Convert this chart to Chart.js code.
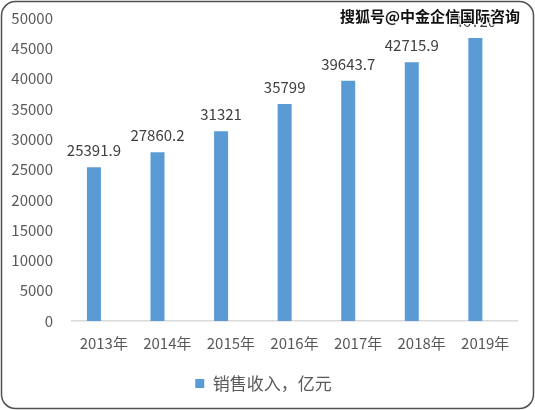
<!DOCTYPE html>
<html>
<head>
<meta charset="utf-8">
<script src="https://cdn.jsdelivr.net/npm/chart.js@4"></script>
<style>
  html, body { margin: 0; padding: 0; background: #fff; }
  #wrap { width: 535px; height: 410px; }
</style>
</head>
<body>
<div id="wrap"><canvas id="salesChart" width="535" height="410"></canvas></div>
<script>
// 销售收入 (亿元), 2013-2019
const years = ['2013年', '2014年', '2015年', '2016年', '2017年', '2018年', '2019年'];
const sales = [25391.9, 27860.2, 31321, 35799, 39643.7, 42715.9, 46720];
const emptySeries = [null, null, null, null, null, null, null];
const yTicks = [0, 5000, 10000, 15000, 20000, 25000, 30000, 35000, 40000, 45000, 50000];

const FONT = '"Noto Sans CJK SC", "Noto Sans", sans-serif';

// rounded frame + white background
const framePlugin = {
    id: 'frame',
    beforeDraw(chart) {
        const c = chart.ctx;
        c.save();
        c.fillStyle = '#fff';
        c.fillRect(0, 0, chart.width, chart.height);
        c.restore();
    },
    afterDraw(chart) {
        const c = chart.ctx;
        c.save();
        c.strokeStyle = '#505050';
        c.lineWidth = 1.5;
        c.beginPath();
        c.roundRect(1.5, 1.5, chart.width - 3, chart.height - 3, 14);
        c.stroke();
        // watermark
        c.font = 'bold 15px ' + FONT;
        c.textAlign = 'right';
        c.textBaseline = 'alphabetic';
        c.lineJoin = 'round';
        c.strokeStyle = '#fff';
        c.lineWidth = 2;
        c.strokeText('搜狐号@中金企信国际咨询', 520, 22);
        c.fillStyle = '#111';
        c.fillText('搜狐号@中金企信国际咨询', 520, 22);
        c.restore();
    }
};

// value labels above bars
const valueLabels = {
    id: 'valueLabels',
    afterDatasetsDraw(chart) {
        const c = chart.ctx;
        const meta = chart.getDatasetMeta(0);
        c.save();
        c.font = '15px ' + FONT;
        c.fillStyle = '#404040';
        c.textAlign = 'center';
        c.textBaseline = 'bottom';
        meta.data.forEach((bar, i) => {
            c.fillText(String(sales[i]), bar.x, bar.y - 9);
        });
        c.restore();
    }
};

new Chart(document.getElementById('salesChart'), {
    type: 'bar',
    data: {
        labels: years,
        datasets: [{
            label: '销售收入，亿元',
            data: sales,
            backgroundColor: '#5B9BD5',
            categoryPercentage: 0.62,
            barPercentage: 0.71
        }, {
            label: '',
            data: emptySeries,
            backgroundColor: 'rgba(0,0,0,0)',
            categoryPercentage: 0.62,
            barPercentage: 0.71
        }]
    },
    options: {
        responsive: false,
        animation: false,
        layout: { padding: { left: 10, right: 18, top: 0, bottom: 8 } },
        plugins: {
            legend: {
                position: 'bottom',
                labels: {
                    boxWidth: 9,
                    boxHeight: 9,
                    color: '#595959',
                    font: { family: FONT, size: 17 },
                    filter: item => item.datasetIndex === 0
                }
            },
            tooltip: { enabled: false }
        },
        scales: {
            x: {
                grid: { display: false, drawTicks: false },
                border: { display: true, color: '#d9d9d9', width: 1.5 },
                ticks: { color: '#595959', font: { family: FONT, size: 15 }, padding: 13 },
                afterFit: axis => { axis.height = 44; }
            },
            y: {
                min: 0,
                max: 50000,
                afterBuildTicks: axis => { axis.ticks = yTicks.map(v => ({ value: v })); },
                grid: { display: false, drawTicks: false },
                border: { display: false },
                ticks: {
                    color: '#595959',
                    font: { family: FONT, size: 15 },
                    padding: 19,
                    callback: v => String(v)
                },
                afterFit: axis => { axis.width = 62; axis.paddingTop = 18; }
            }
        }
    },
    plugins: [framePlugin, valueLabels]
});
</script>
</body>
</html>
